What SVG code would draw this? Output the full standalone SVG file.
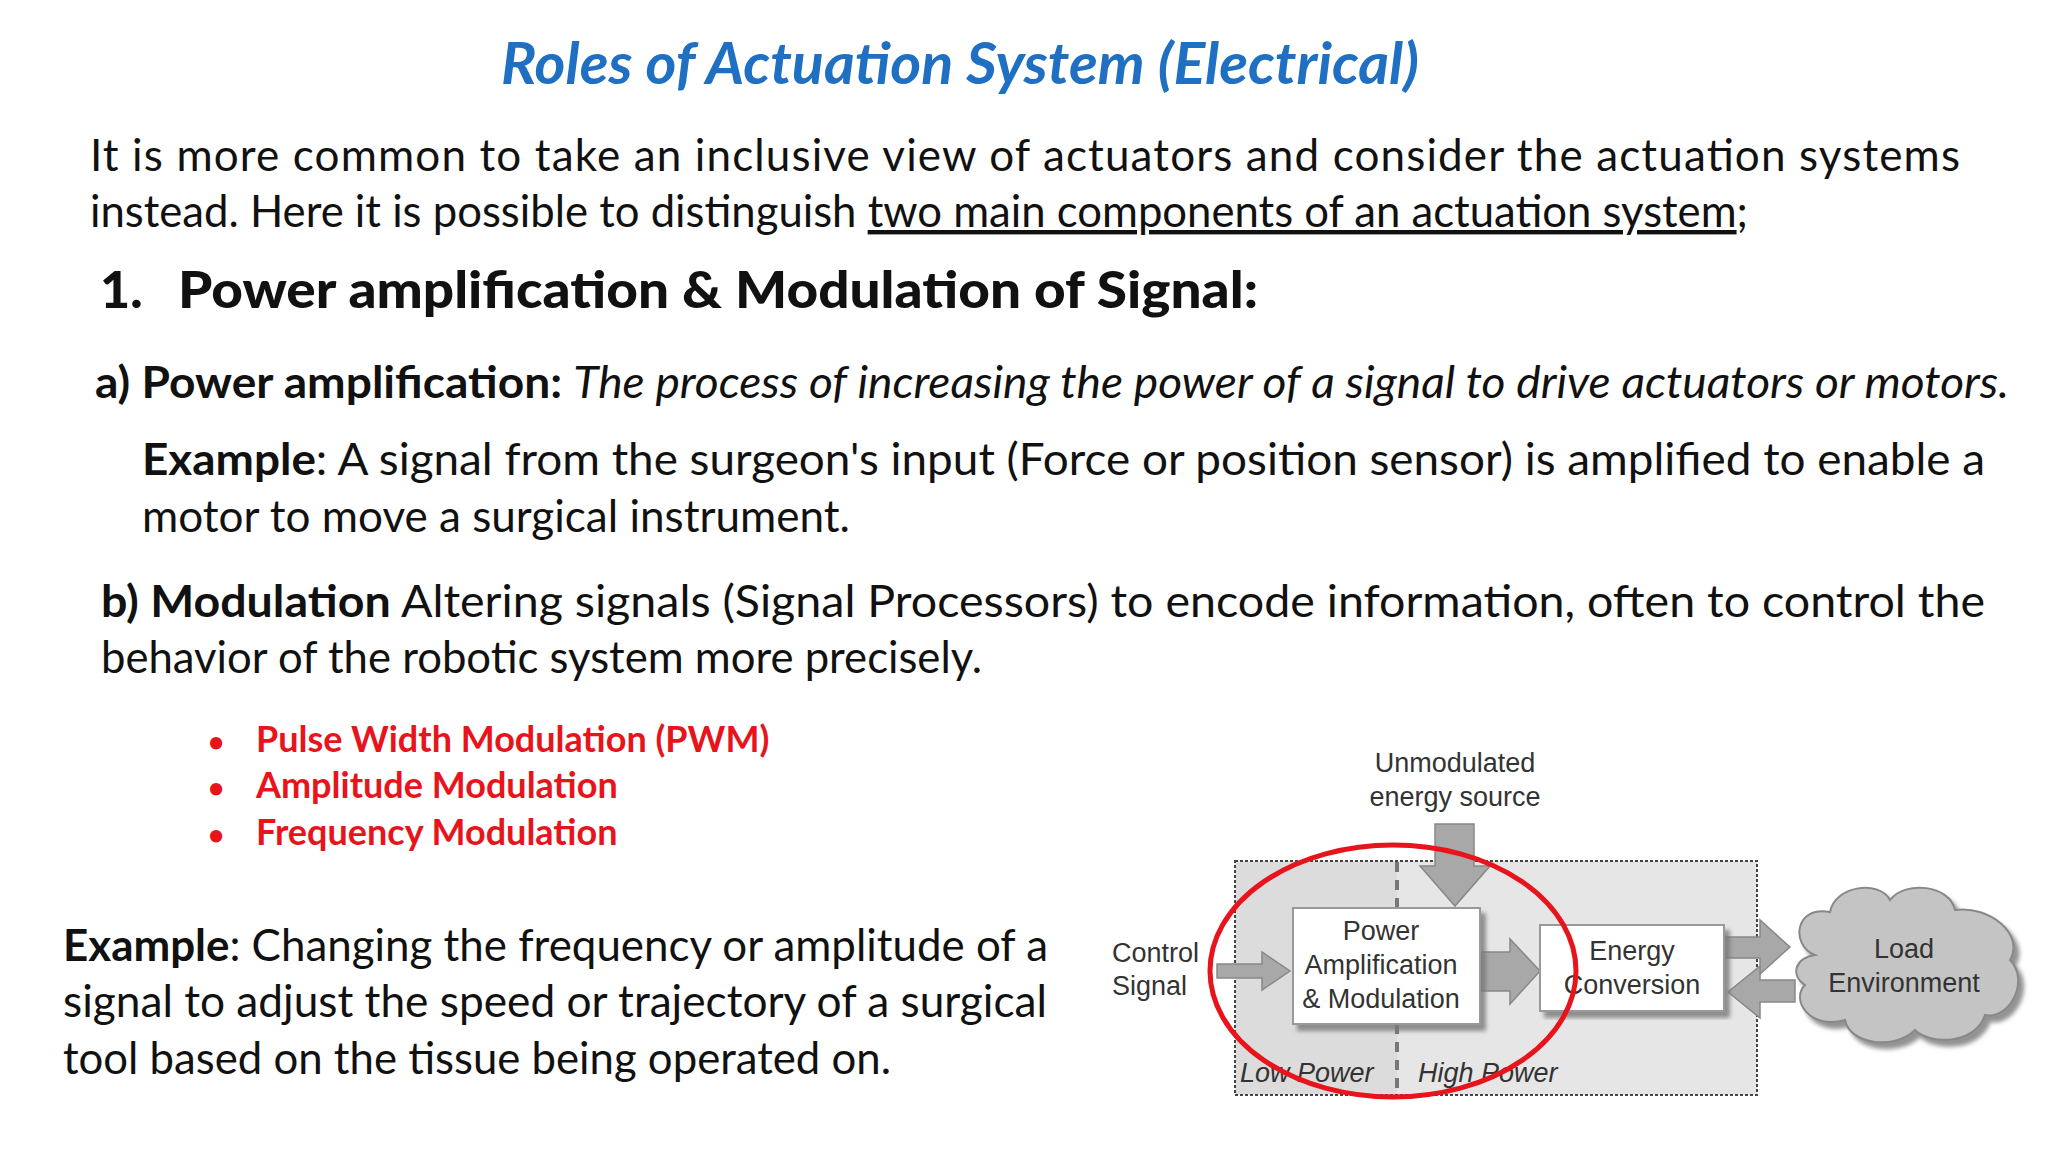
<svg xmlns="http://www.w3.org/2000/svg" width="2048" height="1152" viewBox="0 0 2048 1152">
<style>
.t{font-family:Lato,"Open Sans",sans-serif;font-size:44px;fill:#111}
.b{font-weight:bold}
.i{font-style:italic}
.r{font-family:Lato,sans-serif;font-size:36px;font-weight:bold;fill:#e8141c}
.d{font-family:"Liberation Sans",Arial,sans-serif;font-size:27px;fill:#333}
.box{fill:#fff;stroke:#999;stroke-width:2}
.arr{fill:#a8a8a8;stroke:#888;stroke-width:1.5}
</style>
<defs><filter id="sh"><feDropShadow dx="5" dy="6" stdDeviation="2" flood-color="#777" flood-opacity="0.8"/></filter></defs>
<rect width="2048" height="1152" fill="#fff"/>
<text x="960" y="84" text-anchor="middle" font-family="Lato,sans-serif" font-size="58" font-weight="bold" font-style="italic" fill="#1f6fc2" textLength="918" lengthAdjust="spacingAndGlyphs">Roles of Actuation System (Electrical)</text>
<text class="t" x="90" y="171" textLength="1870" lengthAdjust="spacing">It is more common to take an inclusive view of actuators and consider the actuation systems</text>
<text class="t" x="90" y="227" textLength="1658" lengthAdjust="spacingAndGlyphs">instead. Here it is possible to distinguish <tspan text-decoration="underline">two main components of an actuation system</tspan>;</text>
<text x="100" y="308" font-family="Lato,sans-serif" font-size="52" font-weight="900" fill="#111">1.<tspan x="178" textLength="1080" lengthAdjust="spacingAndGlyphs">Power amplification &amp; Modulation of Signal:</tspan></text>
<text class="t" x="95" y="398" textLength="1914" lengthAdjust="spacingAndGlyphs"><tspan class="b">a) Power amplification: </tspan><tspan class="i"> The process of increasing the power of a signal to drive actuators or motors.</tspan></text>
<text class="t" x="142" y="475" textLength="1843" lengthAdjust="spacingAndGlyphs"><tspan class="b">Example</tspan>: A signal from the surgeon's input (Force or position sensor) is amplified to enable a</text>
<text class="t" x="142" y="532" textLength="708" lengthAdjust="spacingAndGlyphs">motor to move a surgical instrument.</text>
<text class="t" x="101" y="617" textLength="1884" lengthAdjust="spacingAndGlyphs"><tspan class="b">b) Modulation</tspan> Altering signals (Signal Processors) to encode information, often to control the</text>
<text class="t" x="101" y="673" textLength="881" lengthAdjust="spacingAndGlyphs">behavior of the robotic system more precisely.</text>
<g class="r"><text x="208" y="752" font-size="28">•</text><text x="256" y="752">Pulse Width Modulation (PWM)</text>
<text x="208" y="798" font-size="28">•</text><text x="256" y="798">Amplitude Modulation</text>
<text x="208" y="845" font-size="28">•</text><text x="256" y="845">Frequency Modulation</text></g>
<text class="t" x="63" y="961" textLength="985" lengthAdjust="spacingAndGlyphs"><tspan class="b">Example</tspan>: Changing the frequency or amplitude of a</text>
<text class="t" x="63" y="1017" textLength="984" lengthAdjust="spacingAndGlyphs">signal to adjust the speed or trajectory of a surgical</text>
<text class="t" x="63" y="1074" textLength="828" lengthAdjust="spacingAndGlyphs">tool based on the tissue being operated on.</text>

<g id="frame">
<rect x="1235" y="861" width="522" height="234" fill="#e6e6e6" stroke="#444" stroke-width="2" stroke-dasharray="3,2"/>
<rect x="1236" y="862" width="161" height="232" fill="#dcdcdc"/>
<line x1="1397" y1="862" x2="1397" y2="1094" stroke="#777" stroke-width="4" stroke-dasharray="10,8"/>
<text class="d i" x="1240" y="1082">Low Power</text>
<text class="d i" x="1418" y="1082">High Power</text>
</g>
<g id="connectors">
<polygon class="arr" points="1435,824 1474,824 1474,866 1490,866 1455,906 1420,866 1435,866"/>
<polygon class="arr" points="1217,964 1262,964 1262,952 1290,971 1262,990 1262,978 1217,978"/>
<polygon class="arr" points="1481,952 1510,952 1510,939 1540,971 1510,1004 1510,991 1481,991"/>
<polygon class="arr" points="1724,937 1760,937 1760,920 1790,947 1760,974 1760,958 1724,958"/>
<polygon class="arr" points="1795,980 1760,980 1760,966 1728,992 1760,1018 1760,1002 1795,1002"/>
</g>
<g id="source"><text class="d" x="1455" y="772" text-anchor="middle">Unmodulated</text><text class="d" x="1455" y="806" text-anchor="middle">energy source</text></g>
<g id="control"><text class="d" x="1112" y="962">Control</text><text class="d" x="1112" y="995">Signal</text></g>
<g id="power"><rect class="box" x="1293" y="908" width="187" height="116" filter="url(#sh)"/>
<text class="d" x="1381" y="940" text-anchor="middle">Power</text><text class="d" x="1381" y="974" text-anchor="middle">Amplification</text><text class="d" x="1381" y="1008" text-anchor="middle">&amp; Modulation</text></g>
<g id="energy"><rect class="box" x="1540" y="925" width="184" height="86" filter="url(#sh)"/>
<text class="d" x="1632" y="960" text-anchor="middle">Energy</text><text class="d" x="1632" y="994" text-anchor="middle">Conversion</text></g>
<g id="load"><path d="M1815,955 C1790,945 1795,905 1830,912 C1835,885 1880,880 1890,900 C1905,880 1950,885 1955,910 C1990,905 2025,935 2010,960 C2030,980 2010,1020 1985,1015 C1975,1045 1930,1045 1915,1030 C1895,1050 1850,1045 1845,1020 C1810,1030 1790,1000 1805,985 C1790,975 1795,958 1815,955 Z" fill="#c4c4c4" stroke="#888" stroke-width="2" filter="url(#sh)"/>
<text class="d" x="1904" y="958" text-anchor="middle">Load</text><text class="d" x="1904" y="992" text-anchor="middle">Environment</text></g>
<ellipse cx="1393" cy="971" rx="183" ry="126" fill="none" stroke="#e8141c" stroke-width="5"/>
</svg>
